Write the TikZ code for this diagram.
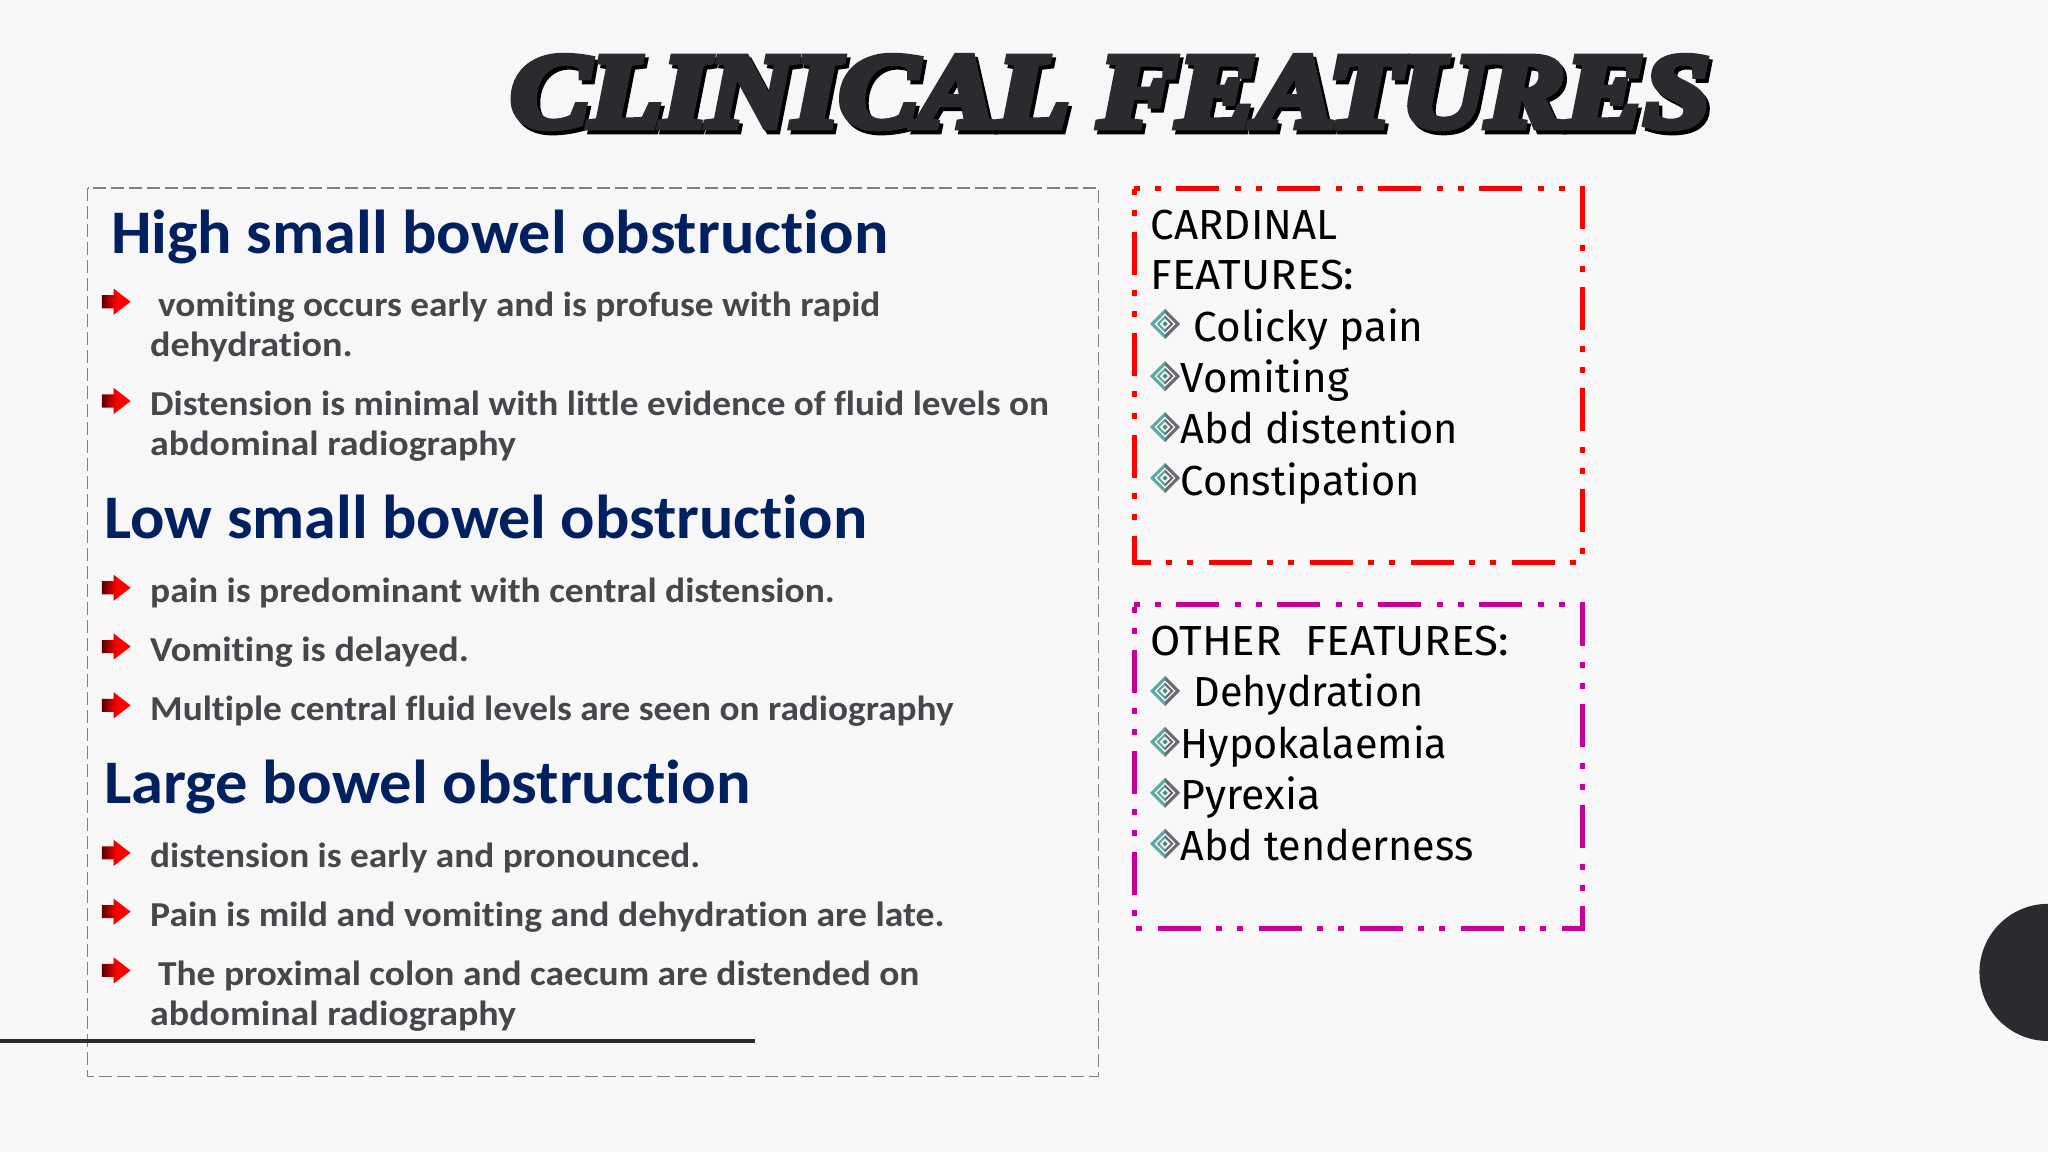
\documentclass[tikz,border=0pt]{standalone}
\usepackage{fontspec}
\usepackage{graphicx}
\setmainfont{Carlito}
\newfontfamily\bodyf{Carlito}[Ligatures=NoCommon]
\newfontfamily\sidef{Fira Sans}
\newfontfamily\titlef{Liberation Serif}[BoldItalicFeatures={FakeBold=7}]
\definecolor{bgc}{HTML}{F7F7F8}
\definecolor{navy}{HTML}{002060}
\definecolor{bodyc}{HTML}{47474B}
\definecolor{darkc}{HTML}{2B2B2F}
\definecolor{grayd}{HTML}{808084}
\definecolor{magc}{HTML}{C8009A}
\definecolor{teald}{HTML}{5FA8A2}
\definecolor{grayk}{HTML}{6A6A72}
% width in 1568-space units; scales text horizontally to reference width
\newcommand\fitw[2]{\resizebox{\dimexpr #1pt*65306/100000\relax}{\height}{#2}}
\newcommand\redarrow[1]{%
  \begin{scope}[shift={(#1)}]
    \shade[left color=red!35!black,right color=red,middle color=red]
      (-11,-5) -- (-2,-5) -- (-2,-10) -- (11,0) -- (-2,10) -- (-2,5) -- (-11,5) -- cycle;
  \end{scope}}
\newcommand\gem[1]{%
  \begin{scope}[shift={(#1)}]
    \fill[teald] (0,-11.5) -- (-11.5,0) -- (0,11.5) -- cycle;
    \fill[grayk] (0,-11.5) -- (11.5,0) -- (0,11.5) -- cycle;
    \fill[bgc] (0,-8) -- (8,0) -- (0,8) -- (-8,0) -- cycle;
    \fill[teald] (0,-6.5) -- (-6.5,0) -- (0,6.5) -- cycle;
    \fill[grayk] (0,-6.5) -- (6.5,0) -- (0,6.5) -- cycle;
    \fill[bgc] (0,-4) -- (4,0) -- (0,4) -- (-4,0) -- cycle;
    \fill[teald!80!black] (0,-2) -- (2,0) -- (0,2) -- (-2,0) -- cycle;
  \end{scope}}
\tikzset{
  x=0.65306pt,y=-0.65306pt,
  headtxt/.style={anchor=base west,inner sep=0,outer sep=0,text=navy,font=\bodyf\bfseries\fontsize{31}{31}\selectfont},
  bodytxt/.style={anchor=base west,inner sep=0,outer sep=0,text=bodyc,font=\bodyf\bfseries\fontsize{17.5}{17.5}\selectfont},
  sidetxt/.style={anchor=base west,inner sep=0,outer sep=0,text=black,font=\sidef\fontsize{21}{21}\selectfont},
  titletxt/.style={anchor=base west,inner sep=0,outer sep=0,font=\titlef\bfseries\itshape\fontsize{53}{53}\selectfont},
  featbox/.style={line width=2.5pt,dash pattern=on 21.5pt off 8pt on 3pt off 7.5pt on 3pt off 7.5pt,dash phase=29.5pt,line join=miter},
}
\begin{document}
\begin{tikzpicture}
\path[use as bounding box,fill=bgc] (0,0) rectangle (1568,882);
% decoration
\fill[darkc] (1568,744.5) circle (52.5);
% title
\node[titletxt,text=black] (titleshadow) at (393.5,100) {\fitw{918}{CLINICAL FEATURES}};
\node[titletxt,text=darkc] (title) at (391,97) {\fitw{918}{CLINICAL FEATURES}};
% left panel
\draw[grayd,line width=0.75pt,dash pattern=on 6.5pt off 2.5pt] (67,144) rectangle (841,824);
\node[headtxt] (h1) at (85,194) {\fitw{595}{High small bowel obstruction}};
\redarrow{89,231}
\node[bodytxt] (a1) at (121,242) {\fitw{553}{vomiting occurs early and is profuse with rapid}};
\node[bodytxt] (a2) at (115,273) {\fitw{155}{dehydration.}};
\redarrow{89,307}
\node[bodytxt] (b1) at (115,318) {\fitw{688}{Distension is minimal with little evidence of fluid levels on}};
\node[bodytxt] (b2) at (115,349) {\fitw{280}{abdominal radiography}};
\node[headtxt] (h2) at (80,412) {\fitw{584}{Low small bowel obstruction}};
\redarrow{89,450}
\node[bodytxt] (c1) at (115,461) {\fitw{524}{pain is predominant with central distension.}};
\redarrow{89,495}
\node[bodytxt] (c2) at (115,506.5) {\fitw{244}{Vomiting is delayed.}};
\redarrow{89,540}
\node[bodytxt] (c3) at (115,552) {\fitw{615}{Multiple central fluid levels are seen on radiography}};
\node[headtxt] (h3) at (80,615) {\fitw{495}{Large bowel obstruction}};
\redarrow{89,653}
\node[bodytxt] (d1) at (115,664) {\fitw{421}{distension is early and pronounced.}};
\redarrow{89,698}
\node[bodytxt] (d2) at (115,709) {\fitw{608}{Pain is mild and vomiting and dehydration are late.}};
\redarrow{89,743}
\node[bodytxt] (d3) at (121,754.5) {\fitw{583}{The proximal colon and caecum are distended on}};
\node[bodytxt] (d4) at (115,785.5) {\fitw{280}{abdominal radiography}};
\draw[darkc,line width=2pt] (0,797) -- (578,797);
% cardinal box
\draw[featbox,red] (868.5,144) -- (1211.5,144) -- (1211.5,430.5) -- (868.5,430.5) -- cycle;
\node[sidetxt] (e1) at (881,183) {\fitw{143}{CARDINAL}};
\node[sidetxt] (e2) at (881,222) {\fitw{156}{FEATURES:}};
\gem{892,248}
\node[sidetxt] (e3) at (914,261.5) {\fitw{176}{Colicky pain}};
\gem{892,288}
\node[sidetxt] (e4) at (904,300.5) {\fitw{129}{Vomiting}};
\gem{892,327}
\node[sidetxt] (e5) at (904,339.5) {\fitw{212}{Abd distention}};
\gem{892,366}
\node[sidetxt] (e6) at (904,379) {\fitw{183}{Constipation}};
% other box
\draw[featbox,magc] (868.5,463) -- (1211.5,463) -- (1211.5,711) -- (868.5,711) -- cycle;
\node[sidetxt] (f1) at (881,502) {\fitw{274}{OTHER\ \ FEATURES:}};
\gem{892,529}
\node[sidetxt] (f2) at (914,541) {\fitw{176}{Dehydration}};
\gem{892,568}
\node[sidetxt] (f3) at (904,581) {\fitw{204}{Hypokalaemia}};
\gem{892,607}
\node[sidetxt] (f4) at (904,620) {\fitw{107}{Pyrexia}};
\gem{892,646}
\node[sidetxt] (f5) at (904,659) {\fitw{224}{Abd tenderness}};
\end{tikzpicture}
\end{document}
